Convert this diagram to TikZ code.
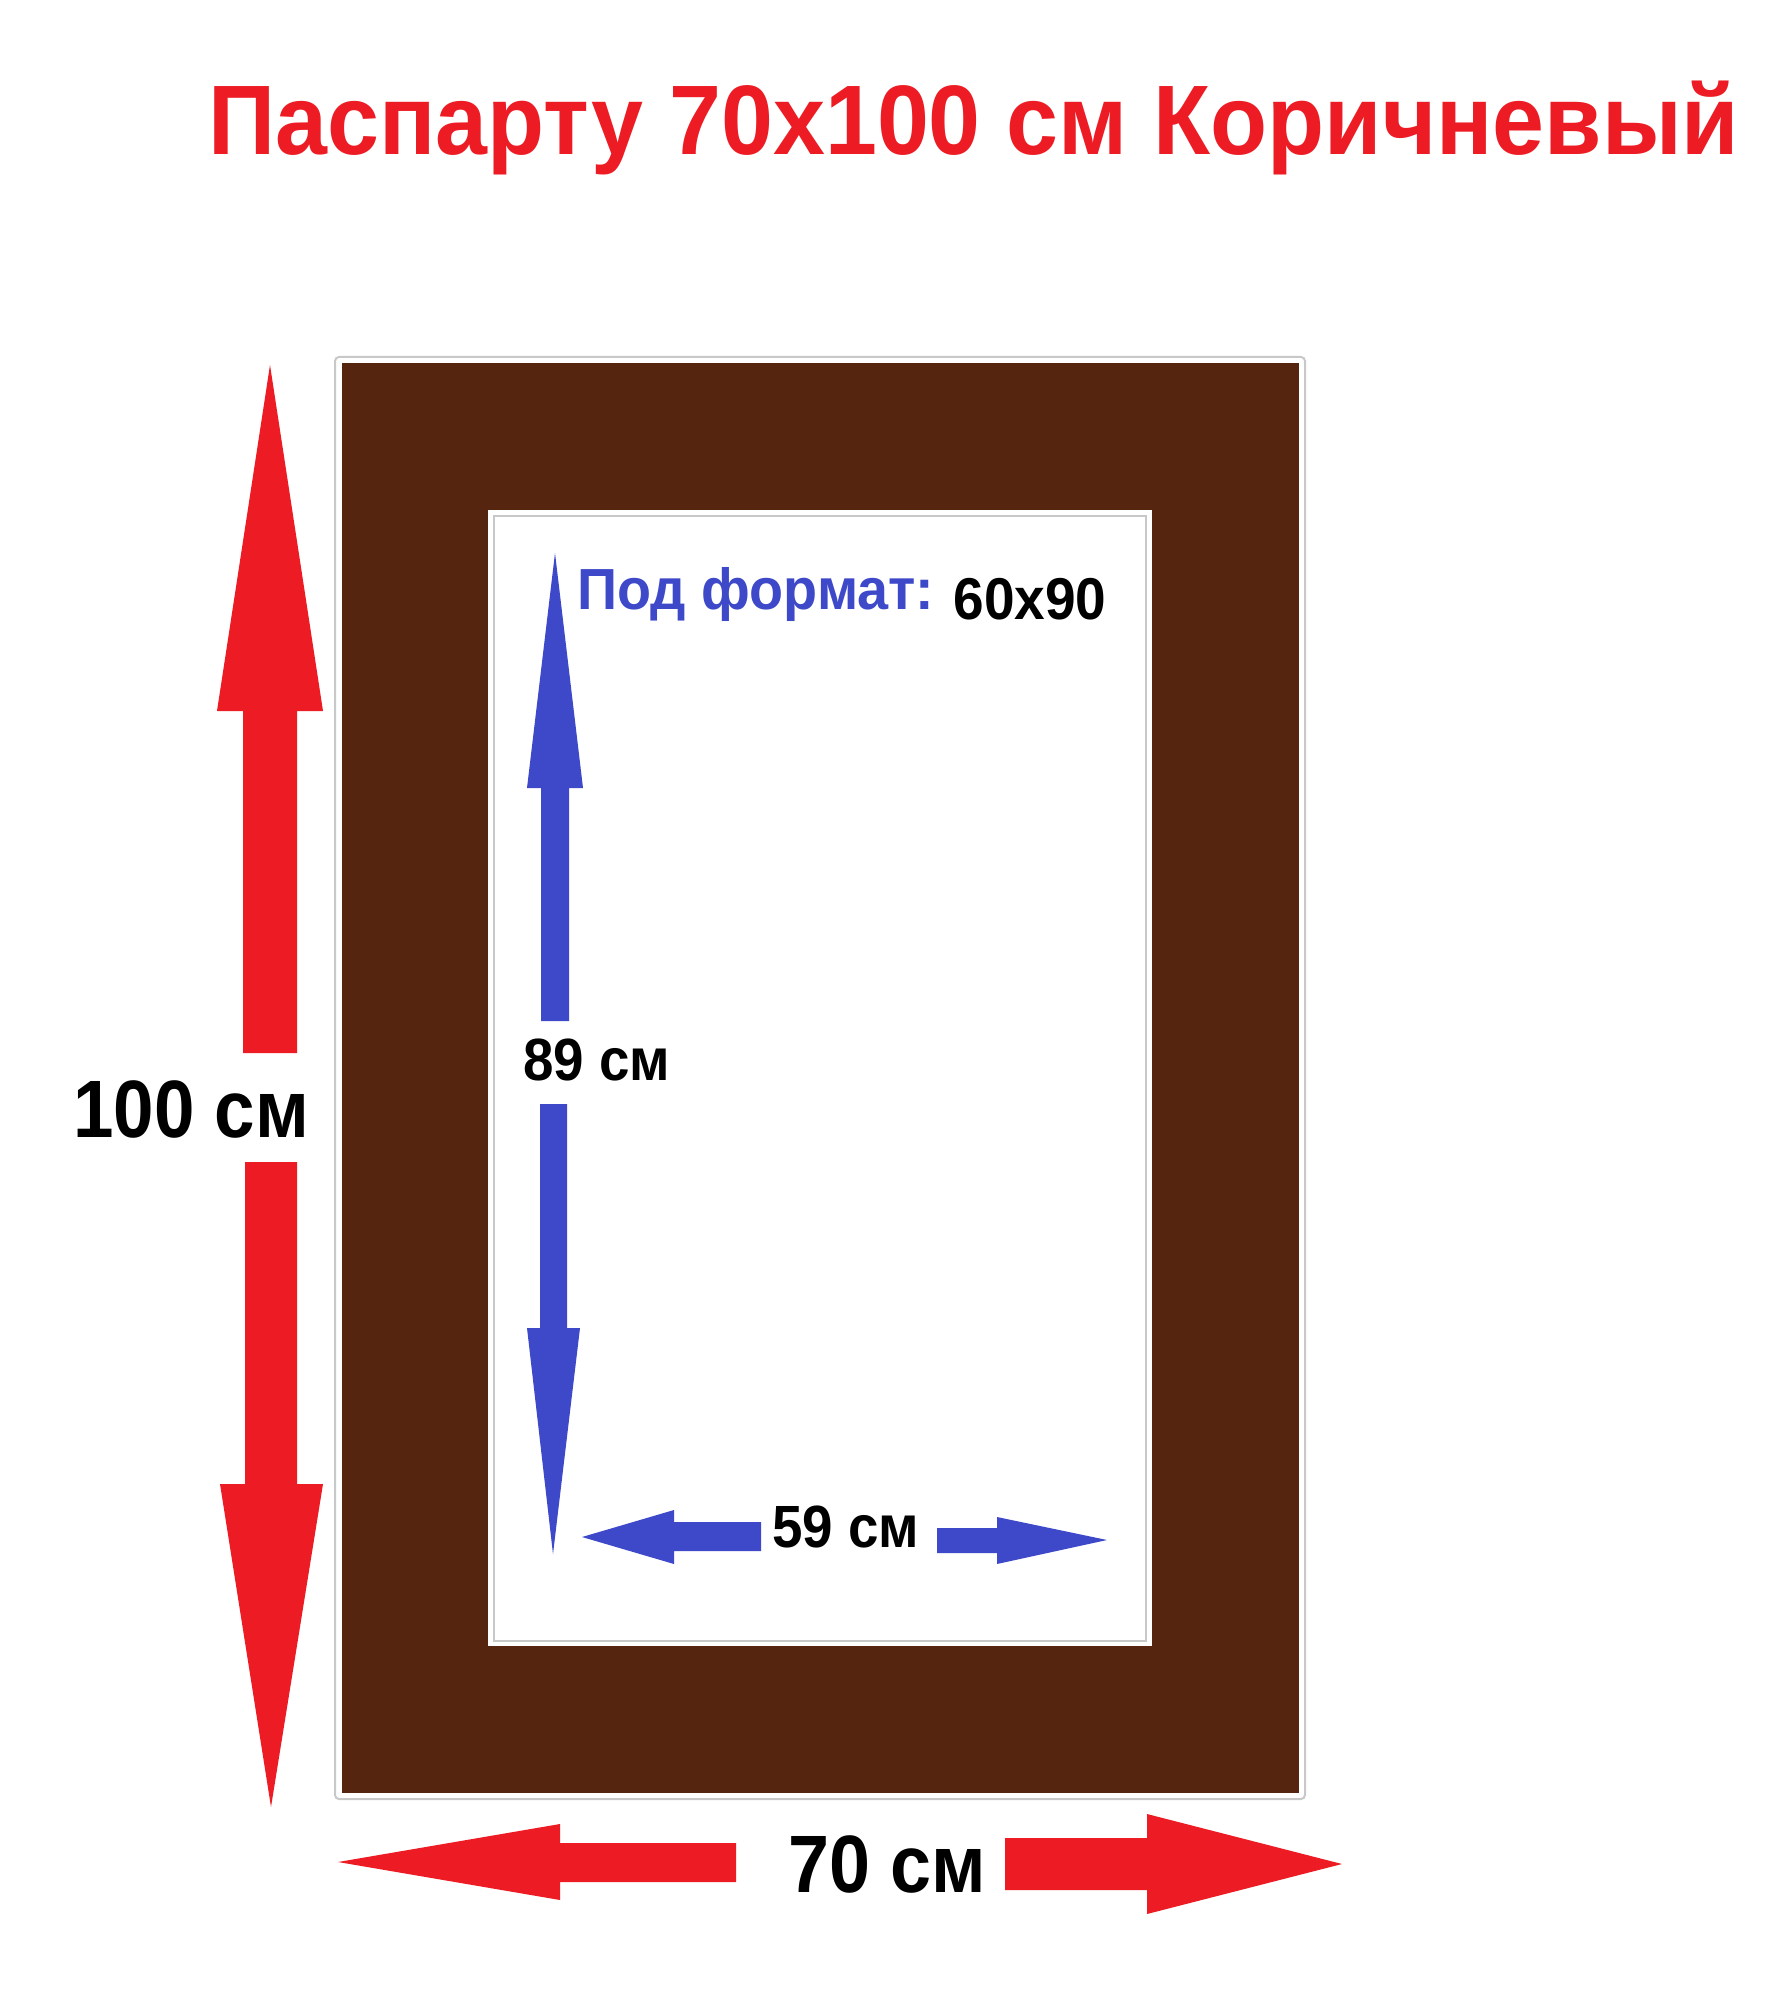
\documentclass[tikz,border=0pt]{standalone}
\usepackage{fontspec}
\setmainfont{Liberation Sans}
\usepackage{graphicx}
\definecolor{myred}{RGB}{237,28,36}
\definecolor{myblue}{RGB}{61,73,200}
\definecolor{mybrown}{RGB}{86,37,16}
\definecolor{myframe}{RGB}{200,200,200}
\newcommand\fitw[3]{\resizebox{#1}{\height}{\fontsize{#2}{#2}\selectfont\bfseries #3}}
\begin{document}
\begin{tikzpicture}[x=0.5pt,y=-0.5pt,
  lbl/.style={inner sep=0pt,anchor=base west},
  redarrow/.style={fill=myred},
  bluearrow/.style={fill=myblue}]
\useasboundingbox (0,0) rectangle (1765,2000);
\fill[white] (0,0) rectangle (1765,2000);
% passe-partout
\draw[myframe,line width=1pt,rounded corners=2pt,fill=white] (335,357) rectangle (1305,1799);
\fill[mybrown] (342,363) rectangle (1299,1793);
\fill[white] (488,510) rectangle (1152,1646);
\draw[myframe,line width=0.8pt] (494,516) rectangle (1146,1641);
% title
\node[lbl,text=myred] (title) at (208,155) {\fitw{765.5pt}{49.4pt}{Паспарту 70x100 см Коричневый}};
% red vertical arrow
\fill[redarrow] (270,365) -- (323,711) -- (297,711) -- (297,1053) -- (243,1053) -- (243,711) -- (217,711) -- cycle;
\fill[redarrow] (271,1807) -- (323,1484) -- (297,1484) -- (297,1162) -- (245,1162) -- (245,1484) -- (220,1484) -- cycle;
\node[lbl] (h100) at (73,1137) {\fitw{118pt}{40.7pt}{100 см}};
% red horizontal arrow
\fill[redarrow] (338,1862) -- (560,1824) -- (560,1843) -- (736,1843) -- (736,1882) -- (560,1882) -- (560,1900) -- cycle;
\fill[redarrow] (1342,1864) -- (1147,1814) -- (1147,1838) -- (1005,1838) -- (1005,1890) -- (1147,1890) -- (1147,1914) -- cycle;
\node[lbl] (w70) at (788,1892) {\fitw{99pt}{40.7pt}{70 см}};
% blue vertical arrow
\fill[bluearrow] (555,553) -- (583,788) -- (569,788) -- (569,1021) -- (541,1021) -- (541,788) -- (527,788) -- cycle;
\fill[bluearrow] (553,1554) -- (580,1328) -- (567,1328) -- (567,1104) -- (540,1104) -- (540,1328) -- (527,1328) -- cycle;
\node[lbl] (h89) at (523,1080) {\fitw{73.5pt}{29.8pt}{89 см}};
% blue horizontal arrow
\fill[bluearrow] (582,1537) -- (674,1510) -- (674,1522) -- (761,1522) -- (761,1551) -- (674,1551) -- (674,1564) -- cycle;
\fill[bluearrow] (1107,1540) -- (997,1517) -- (997,1528) -- (937,1528) -- (937,1553) -- (997,1553) -- (997,1564) -- cycle;
\node[lbl] (w59) at (772,1547) {\fitw{73.5pt}{29.8pt}{59 см}};
% format label
\node[lbl,text=myblue] (fmt) at (577,609) {\fitw{178.5pt}{29pt}{Под формат:}};
\node[lbl] (fmtv) at (953,619) {\fitw{76.5pt}{29.5pt}{60x90}};
\end{tikzpicture}
\end{document}
